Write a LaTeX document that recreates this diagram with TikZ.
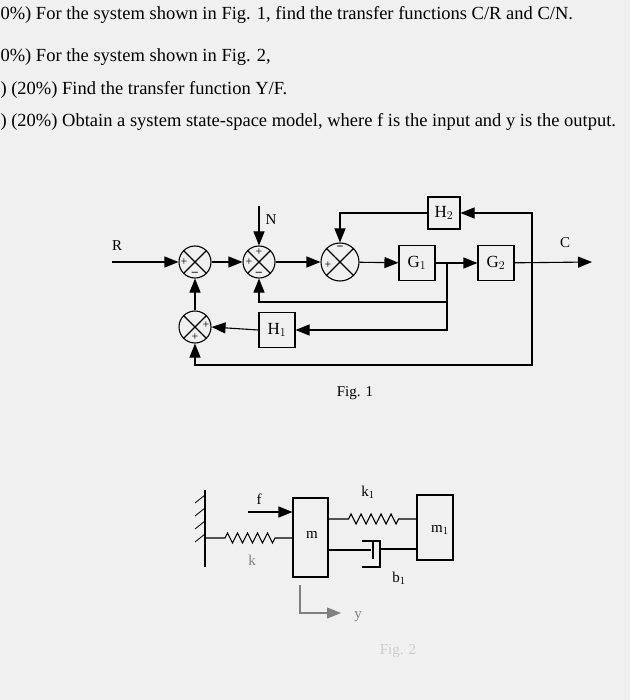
\documentclass[tikz,border=0pt]{standalone}
\usepackage{fontspec}
\setmainfont{Liberation Serif}
\usetikzlibrary{arrows.meta,decorations.pathmorphing}
\begin{document}
\begin{tikzpicture}[x=1pt,y=-1pt,line width=1.1pt,
  ar/.style={-{Triangle[length=14pt,width=11pt]}},
  sumn/.style={circle,draw,minimum size=32pt,inner sep=0pt},
  blk/.style={draw,minimum width=36pt,minimum height=35pt,font=\fontsize{17}{17}\selectfont},
  lbl/.style={font=\fontsize{15}{15}\selectfont,inner sep=0pt},
  txt/.style={font=\fontsize{18.5}{18.5}\selectfont,anchor=west,inner sep=0pt},
  sg/.style={font=\fontsize{12}{12}\selectfont,inner sep=0pt},
  spr/.style={decorate,decoration={zigzag,segment length=10pt,amplitude=5pt,pre length=20pt,post length=14pt}}]
\useasboundingbox (0,0) rectangle (630,700);
\fill[gray!12] (0,0) rectangle (630,700);
\node[txt] (t1) at (0,15) {0\%) For the system shown in Fig. 1, find the transfer functions C/R and C/N.};
\node[txt] (t2) at (0,57) {0\%) For the system shown in Fig. 2,};
\node[txt] (t3) at (0,90) {) (20\%) Find the transfer function Y/F.};
\node[txt] (t4) at (0,122) {) (20\%) Obtain a system state-space model, where f is the input and y is the output.};
% Fig 1
\coordinate (rin) at (112,262);
\node[sumn] (s1) at (195,262) {};
\node[sumn] (s2) at (259,262) {};
\node[sumn,minimum size=38pt] (s3) at (340,262) {};
\node[sumn] (s4) at (195,327) {};
\foreach \s in {s1,s2,s3,s4}{\draw (\s.north west)--(\s.south east) (\s.north east)--(\s.south west);}
\node[blk] (g1) at (417,263) {G$_1$};
\node[blk] (g2) at (496,263) {G$_2$};
\node[blk,minimum width=32pt,minimum height=32pt] (h2) at (444,213) {H$_2$};
\node[blk] (h1) at (277,330) {H$_1$};
\coordinate (cout) at (592,262);
\coordinate (p1) at (447,262);
\coordinate (p2) at (532,262);
\coordinate (nin) at (259,206);
\node[lbl] (R) at (117,246) {R};
\node[lbl] (C) at (565,243) {C};
\node[lbl] (N) at (271,220) {N};
\draw[ar] (rin)--(s1);
\draw[ar] (s1)--(s2);
\draw[ar] (s2)--(s3);
\draw[ar] (s3)--(g1);
\draw[ar] (g1)--(g2);
\draw[ar] (g2)--(cout);
\draw[ar] (nin)--(s2.north);
\draw[ar] (p2)|-(h2.east);
\draw[ar] (h2.west)-|(s3.north);
\draw[ar] (p1)|-(h1.east);
\draw[ar] (p1|-0,302)-|(s2.south);
\draw[ar] (h1.west)--(s4.east);
\draw[ar] (s4.north)--(s1.south);
\draw[ar] (p2)|-(s4.south|-0,365)--(s4.south);
\node[sg] at (184,262) {+}; \node[sg] at (195,272) {\textbf{\_}};
\node[sg] at (249,262) {+}; \node[sg] at (259,252) {+}; \node[sg] at (259,272) {\textbf{\_}};
\node[sg] at (328,265) {+}; \node[sg] at (340,248) {\textbf{\textminus}};
\node[sg] at (206,325) {+}; \node[sg] at (195,337) {+};
\node[lbl] (f1) at (355,393) {Fig. 1};
% Fig 2
\node[draw,minimum width=35pt,minimum height=79pt,inner sep=0pt] (m) at (310.5,537.5) {};
\node[lbl] at (312,535) {m};
\node[draw,minimum width=36pt,minimum height=65pt,inner sep=0pt] (m1) at (435,527.5) {};
\node[lbl] at (440,530) {m$_1$};
\coordinate (wt) at (205,490); \coordinate (wb) at (205,567);
\draw (wt)--(wb);
\foreach \yy in {495,508,521,534}{\draw[line width=0.8pt] (205,\yy)--(195,\yy+8);}
\draw[spr] (205,538)--(m.west|-0,538);
\node[lbl,gray] at (252,560) {k};
\draw[ar] (248,512)--(m.west|-0,512);
\node[lbl] at (259,499) {f};
\draw[spr] (m.east|-0,519)--(m1.west|-0,519);
\node[lbl] at (368,492) {k$_1$};
\draw (m.east|-0,550)--(371,550);
\draw (373,541)--(373,559);
\draw (362,541)--(380,541)--(380,567)--(362,567);
\draw (380,549)--(m1.west|-0,549);
\node[lbl] at (399,578) {b$_1$};
\draw[ar,gray] (300,585)--(300,613)--(341,613);
\node[lbl,gray] at (358,617) {y};
\node[lbl,gray!40] at (398,651) {Fig. 2};
\end{tikzpicture}
\end{document}
